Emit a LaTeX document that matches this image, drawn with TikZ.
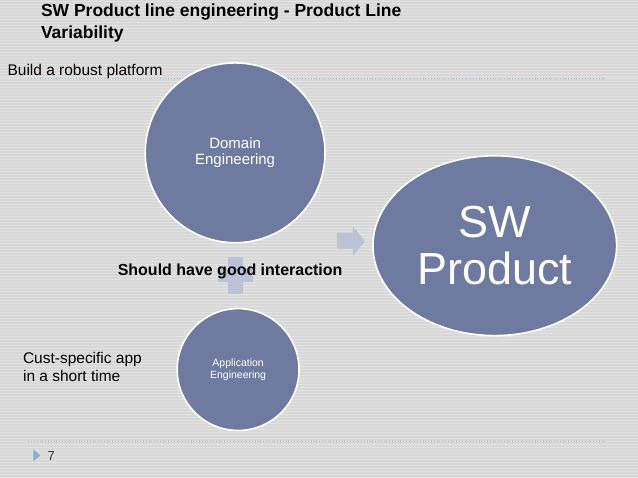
\documentclass[tikz,border=0pt]{standalone}
\usepackage{fontspec}
\usepackage{xcolor}
\setmainfont{Liberation Sans}
\usetikzlibrary{shapes.geometric}

\definecolor{slidebg}{RGB}{216,216,216}
\definecolor{stripe}{RGB}{226,226,226}
\definecolor{blobfill}{RGB}{111,122,160}
\definecolor{ghost}{RGB}{188,194,214}
\definecolor{rule}{RGB}{165,185,205}
\definecolor{bullet}{RGB}{140,175,205}

\tikzset{
  blob/.style={circle, fill=blobfill, draw=white, line width=1.6pt, inner sep=0pt,
    text=white, align=center},
  note/.style={anchor=base west, inner sep=0pt, font=\fontsize{15.5}{18}\selectfont},
  heading/.style={anchor=base west, inner sep=0pt, font=\fontsize{17.5}{22}\selectfont\bfseries}
}

\begin{document}
\begin{tikzpicture}[x=1pt, y=-1pt]
  % background
  \fill[slidebg] (0,0) rectangle (638,478);
  \foreach \y in {1,4,...,478}
    \draw[stripe, line width=0.8pt] (0,\y) -- (638,\y);
  \useasboundingbox (0,0) rectangle (638,478);

  % title
  \node[heading] (title) at (40.5,17) {SW Product line engineering - Product Line};
  \node[heading] (title2) at (40.5,39) {Variability};

  % dotted rules
  \draw[rule, dotted, line width=0.8pt] (28,79) -- (605,79);
  \draw[rule, dotted, line width=0.8pt] (28,442) -- (605,442);

  % the three blobs
  \node[blob, minimum size=180pt, font=\fontsize{15}{15.5}\selectfont] (domain) at (235,153)
    {Domain\\Engineering};
  \node[blob, minimum size=122pt, font=\fontsize{10.5}{12.5}\selectfont] (app) at (238,370)
    {Application\\Engineering};
  \node[blob, ellipse, minimum width=244pt, minimum height=180pt,
    font=\fontsize{45}{47}\selectfont] (product) at (495,246) {SW\\Product};

  % plus and arrow
  \fill[ghost] (218,268) rectangle (253,282);
  \fill[ghost] (228,257) rectangle (243,294);
  \fill[ghost] (337,233) -- (353,233) -- (353,227) -- (365,241.5) -- (353,256)
    -- (353,249) -- (337,249) -- cycle;

  % notes
  \node[note] (platform) at (7,76) {Build a robust platform};
  \node[note] (cust) at (22.5,364) {Cust-specific app};
  \node[note] (cust2) at (22.5,382) {in a short time};
  \node[anchor=base, inner sep=0pt, font=\fontsize{16}{18}\selectfont\bfseries]
    (interact) at (230,276) {Should have good interaction};

  % page number
  \fill[bullet] (33,450) -- (40,456) -- (33,462) -- cycle;
  \node[anchor=base west, inner sep=0pt, text=black!80, font=\fontsize{13}{14}\selectfont]
    (page) at (47,461) {7};
\end{tikzpicture}
\end{document}
